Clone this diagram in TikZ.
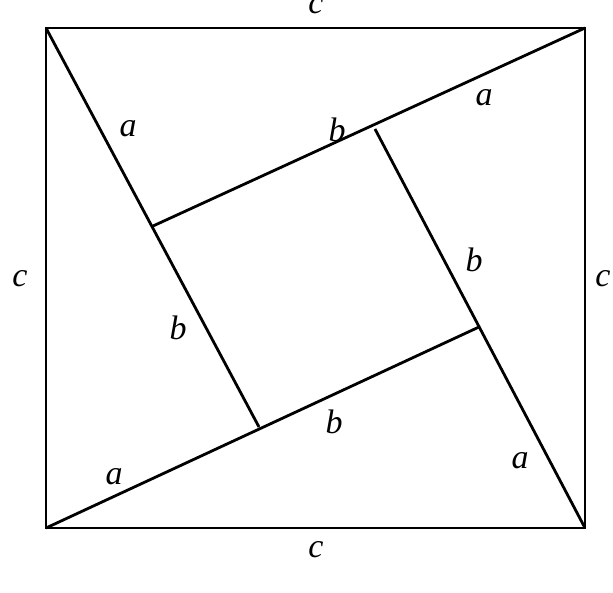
\documentclass[tikz,border=0pt]{standalone}
\usepackage{fontspec}
\setmainfont{Liberation Serif}
\begin{document}
\begin{tikzpicture}[x=1pt,y=-1pt,
  edge/.style={line width=2.8pt},
  lbl/.style={font=\fontsize{34}{40}\selectfont\itshape, inner sep=0pt}]
\useasboundingbox (0,0) rectangle (613,593);
\coordinate (TL) at (46,28);
\coordinate (TR) at (585,28);
\coordinate (BR) at (585,528);
\coordinate (BL) at (46,528);
\coordinate (P) at (153,226);
\coordinate (Q) at (375,129);
\coordinate (R) at (479,327);
\coordinate (S) at (259,427);
\draw[edge, line join=miter] (TL) -- (TR) -- (BR) -- (BL) -- cycle;
\draw[edge] (TL) -- (S);
\draw[edge] (BL) -- (R);
\draw[edge] (BR) -- (Q);
\draw[edge] (TR) -- (P);
\node[lbl] (ct) at (316,6) {c};
\node[lbl] (cl) at (20,279) {c};
\node[lbl] (cr) at (603,279) {c};
\node[lbl] (cb) at (316,550) {c};
\node[lbl] (a1) at (128,129) {a};
\node[lbl] (b1) at (337,130) {b};
\node[lbl] (a2) at (484,98) {a};
\node[lbl] (b2) at (474,260) {b};
\node[lbl] (a3) at (520,461) {a};
\node[lbl] (b3) at (334,422) {b};
\node[lbl] (a4) at (114,477) {a};
\node[lbl] (b4) at (178,328) {b};
\end{tikzpicture}
\end{document}
